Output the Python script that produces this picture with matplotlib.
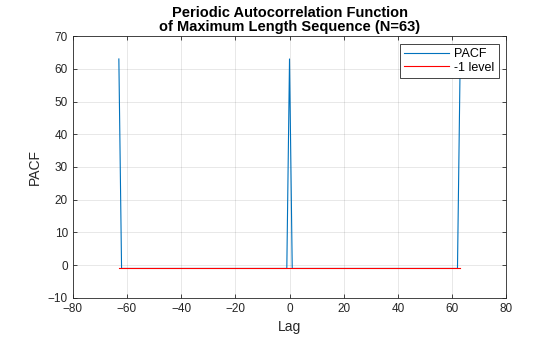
import matplotlib.pyplot as plt
import numpy as np

plt.rcParams['font.family'] = ['Liberation Sans', 'DejaVu Sans']

# periodic autocorrelation of an MLS, N = 63
N = 63
lags = np.arange(-63, 64)
peak_lags = [-63, 0, 63]
peak_value = 63
floor_value = -1

pacf = np.full(len(lags), floor_value, dtype=float)
for p in peak_lags:
    pacf[lags == p] = peak_value

fig = plt.figure(figsize=(5.6, 3.37), dpi=100)
ax = fig.add_axes([0.130, 0.116, 0.774, 0.777])

ax.plot(lags, pacf, color='#0072BD', linewidth=0.8, label='PACF')
ax.plot([lags[0], lags[-1]], [floor_value, floor_value], color='red', linewidth=0.8, label='-1 level')

ax.set_xlim(-80, 80)
ax.set_ylim(-10, 70)
ax.set_xticks(np.arange(-80, 81, 20))
ax.set_yticks(np.arange(-10, 71, 10))
ax.grid(True, color='#262626', alpha=0.15, linewidth=0.5)
ax.tick_params(direction='in', top=True, right=True, labelsize=8.5, length=3, width=0.6, colors='#262626')
for s in ax.spines.values():
    s.set_linewidth(0.6)
    s.set_color('#262626')

ax.set_xlabel('Lag', fontsize=10, color='#262626')
ax.set_ylabel('PACF', fontsize=10, color='#262626')
ax.set_title('Periodic Autocorrelation Function\nof Maximum Length Sequence (N=63)',
             fontsize=10.5, fontweight='bold', linespacing=1.0, pad=4)

leg = ax.legend(loc='upper right', fontsize=9, fancybox=False, framealpha=1,
                edgecolor='#262626', handlelength=3.6, borderaxespad=0.6,
                borderpad=0.35, labelspacing=0.15, handletextpad=0.4)
leg.get_frame().set_linewidth(0.6)

fig.savefig('out.png', dpi=100)
